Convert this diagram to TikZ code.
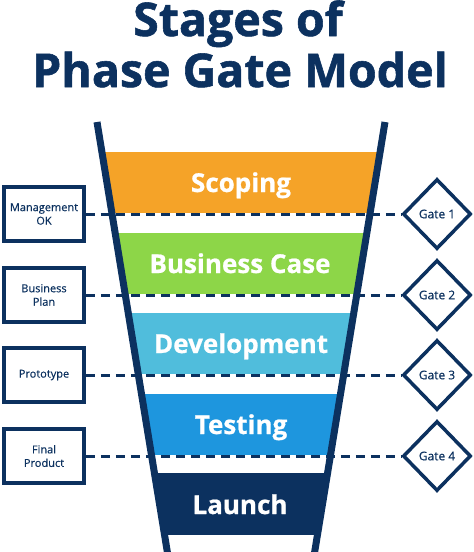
\documentclass[tikz,border=0pt]{standalone}
\usepackage{fontspec}
\setmainfont{Open Sans}
\usetikzlibrary{shapes.geometric, positioning}
\definecolor{navyblue}{RGB}{12, 49, 95}
\definecolor{scopeorange}{RGB}{245, 163, 40}
\definecolor{casegreen}{RGB}{141, 214, 72}
\definecolor{devteal}{RGB}{80, 189, 220}
\definecolor{testblue}{RGB}{30, 150, 222}
\tikzset{
  titletext/.style  = {anchor=base, text=navyblue, font=\bfseries\addfontfeature{FakeBold=1.2}\fontsize{46.5}{50}\selectfont},
  stagetext/.style  = {anchor=base, text=white, font=\bfseries\addfontfeature{FakeBold=0.8}\fontsize{26}{30}\selectfont},
  docbox/.style     = {rectangle, draw=navyblue, fill=white, line width=3.5pt, minimum width=80pt, minimum height=54pt, align=center, text=navyblue, font=\addfontfeature{FakeBold=0.3}\fontsize{11}{13.5}\selectfont},
  gatediamond/.style= {diamond, draw=navyblue, fill=white, line width=3.5pt, minimum width=68pt, minimum height=70pt, inner sep=0pt, text=navyblue, font=\addfontfeature{FakeBold=0.3}\fontsize{12}{14}\selectfont},
  gateline/.style   = {draw=navyblue, line width=3pt, dash pattern=on 9pt off 6pt},
  funnelwall/.style = {draw=navyblue, line width=7pt},
}

\begin{document}
\begin{tikzpicture}[x=1pt, y=-1pt]
\useasboundingbox (0,0) rectangle (474,552);

% ================= Title =================
\node (title1) [titletext] at (238,36) {Stages of};
\node (title2) [titletext] at (240,87) {Phase Gate Model};

% ================= Stage bands =================
\begin{scope}
    \clip (97,122) -- (385,122) -- (314,552) -- (168,552) -- cycle;
    \fill [scopeorange] (0,152) rectangle (474,213);
    \fill [casegreen]   (0,233) rectangle (474,294);
    \fill [devteal]     (0,313) rectangle (474,374);
    \fill [testblue]    (0,394) rectangle (474,455);
    \fill [navyblue]    (0,473) rectangle (474,535);
\end{scope}

\node (scoping)     [stagetext] at (241,192) {Scoping};
\node (bizcase)     [stagetext] at (240,273) {Business Case};
\node (development) [stagetext] at (241,353) {Development};
\node (testing)     [stagetext] at (241,434) {Testing};
\node (launch)      [stagetext] at (240,514) {Launch};

% ================= Deliverables (left) =================
\node (mgmt)      [docbox] at (44,214) {Management\\OK};
\node (bizplan)   [docbox] at (44,295) {Business\\Plan};
\node (prototype) [docbox] at (44,375) {Prototype};
\node (product)   [docbox] at (44,456) {Final\\Product};

% ================= Gates (right) =================
\node (gate1) [gatediamond] at (437,214) {Gate 1};
\node (gate2) [gatediamond] at (437,295) {Gate 2};
\node (gate3) [gatediamond] at (437,375) {Gate 3};
\node (gate4) [gatediamond] at (437,456) {Gate 4};

% ================= Gate lines =================
\draw [gateline] (mgmt.east)      -- (gate1.west);
\draw [gateline] (bizplan.east)   -- (gate2.west);
\draw [gateline] (prototype.east) -- (gate3.west);
\draw [gateline] (product.east)   -- (gate4.west);

% ================= Funnel walls =================
\coordinate (ltop) at (97,122);
\coordinate (lbot) at (168,556);
\coordinate (rtop) at (385,122);
\coordinate (rbot) at (314,556);
\draw [funnelwall] (ltop) -- (lbot);
\draw [funnelwall] (rtop) -- (rbot);

\end{tikzpicture}
\end{document}
